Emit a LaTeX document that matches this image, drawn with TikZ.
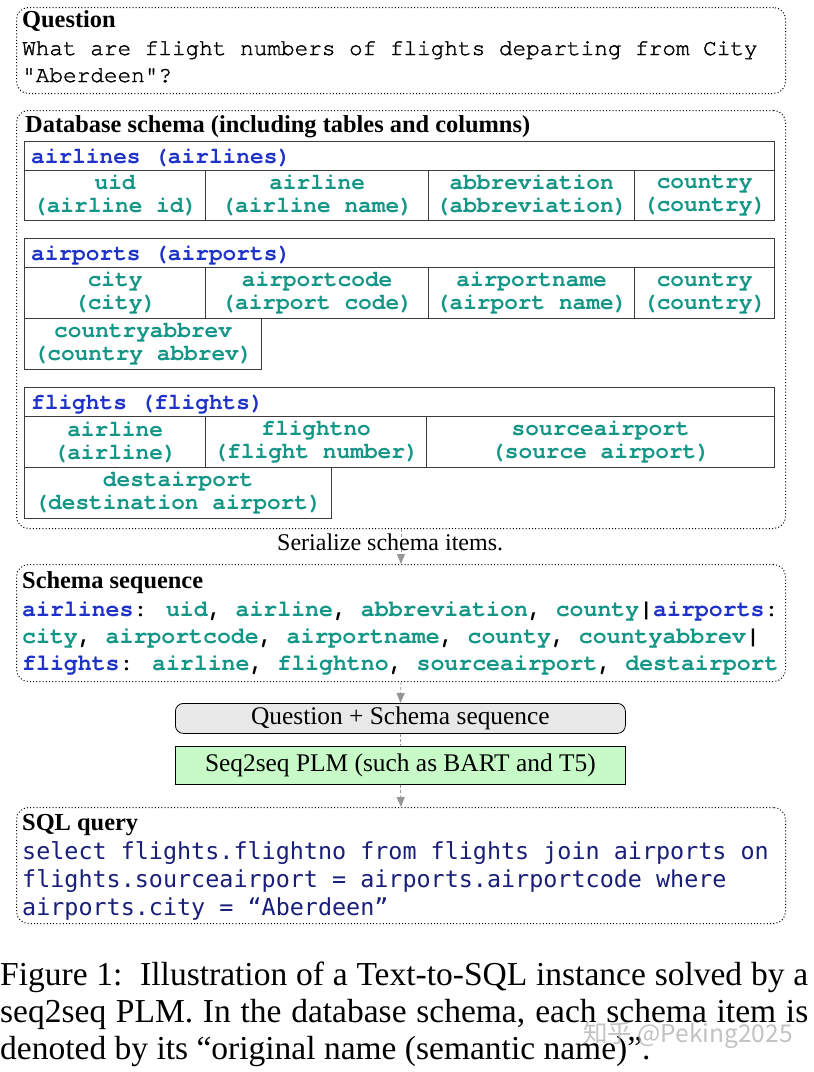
\documentclass[tikz,border=0pt]{standalone}
\usepackage{fontspec}
\setmainfont{Liberation Serif}
\newfontfamily\courq{TeX Gyre Cursor}[Ligatures={NoCommon}, FakeBold=1.6, BoldFont={TeX Gyre Cursor}, BoldFeatures={FakeBold=1.6}]
\newfontfamily\courb{TeX Gyre Cursor}[Ligatures={NoCommon}]
\newfontfamily\sqlfont{DejaVu Sans Mono}
\newfontfamily\cjkfont{Noto Sans CJK SC}
\usetikzlibrary{arrows.meta}
\definecolor{tblue}{RGB}{30,50,200}
\definecolor{tteal}{RGB}{20,150,135}
\definecolor{sqlblue}{RGB}{25,30,120}
\definecolor{boxgrey}{RGB}{232,232,232}
\definecolor{plmgreen}{RGB}{200,250,200}
\definecolor{arrowgrey}{RGB}{150,150,150}
\definecolor{tblborder}{RGB}{60,60,60}
\newcommand{\tabn}[1]{\textcolor{tblue}{#1}}
\newcommand{\coln}[1]{\textcolor{tteal}{#1}}
\begin{document}
\begin{tikzpicture}[x=1pt,y=-1pt,
  dotbox/.style={draw=black, line width=1pt, dash pattern=on 1pt off 2.2pt, rounded corners=12pt, minimum width=769, inner sep=0, anchor=north west},
  titletext/.style={font=\bfseries\fontsize{24.4}{26}\selectfont, anchor=base west, inner sep=0},
  qline/.style={font=\courq\bfseries\fontsize{22.7}{27}\selectfont, anchor=base west, inner sep=0},
  seqline/.style={font=\courb\bfseries\fontsize{23.2}{27}\selectfont, anchor=base west, inner sep=0},
  sqlline/.style={font=\sqlfont\fontsize{23.4}{28}\selectfont, text=sqlblue, anchor=base west, inner sep=0},
  cell/.style={draw=tblborder, line width=1.3pt, inner sep=0, anchor=north west, font=\courb\bfseries\fontsize{22.8}{23}\selectfont, text=tteal, align=center},
  tname/.style={font=\courb\bfseries\fontsize{22.8}{23}\selectfont, text=tblue, anchor=base west, inner sep=0},
  plain/.style={font=\fontsize{24}{26}\selectfont, anchor=base west, inner sep=0},
  stagebox/.style={draw=black, line width=0.8pt, minimum width=450, inner sep=0, anchor=north west, font=\fontsize{25.4}{27}\selectfont},
  conn/.style={draw=arrowgrey, line width=0.8pt, dash pattern=on 3pt off 2pt, -{Triangle[width=8pt,length=10pt]}},
  dconn/.style={draw=arrowgrey, line width=0.8pt, dash pattern=on 3pt off 2pt},
  capline/.style={font=\fontsize{33.5}{37}\selectfont, anchor=base west, inner sep=0},
  wm/.style={font=\cjkfont\fontsize{24.5}{26}\selectfont, text=black!32, opacity=0.75, anchor=west, inner sep=0}
]
\useasboundingbox (0,0) rectangle (814,1072);

% Question box
\node[dotbox, minimum height=86] (qbox) at (16,7) {};
\node[titletext] (qt) at (22,27) {Question};
\node[qline] (q1) at (22,55) {What are flight numbers of flights departing from City};
\node[qline] (q2) at (22,82) {"Aberdeen"?};

% Database schema box
\node[dotbox, minimum height=418] (dbbox) at (16,110) {};
\node[titletext] (dbt) at (25,132) {Database schema (including tables and columns)};

% airlines table
\node[cell, minimum width=750, minimum height=29] (t1h) at (24,141) {};
\node[tname] (t1n) at (31,163) {airlines (airlines)};
\node[cell, minimum width=181, minimum height=50] (t1c1) at (24,170) {uid\\(airline id)};
\node[cell, minimum width=223, minimum height=50] (t1c2) at (205,170) {airline\\(airline name)};
\node[cell, minimum width=206, minimum height=50] (t1c3) at (428,170) {abbreviation\\(abbreviation)};
\node[cell, minimum width=140, minimum height=50] (t1c4) at (634,170) {country\\(country)};

% airports table
\node[cell, minimum width=750, minimum height=29] (t2h) at (24,238) {};
\node[tname] (t2n) at (31,260) {airports (airports)};
\node[cell, minimum width=181, minimum height=51] (t2c1) at (24,267) {city\\(city)};
\node[cell, minimum width=223, minimum height=51] (t2c2) at (205,267) {airportcode\\(airport code)};
\node[cell, minimum width=206, minimum height=51] (t2c3) at (428,267) {airportname\\(airport name)};
\node[cell, minimum width=140, minimum height=51] (t2c4) at (634,267) {country\\(country)};
\node[cell, minimum width=237, minimum height=51] (t2c5) at (24,318) {countryabbrev\\(country abbrev)};

% flights table
\node[cell, minimum width=750, minimum height=29] (t3h) at (24,387) {};
\node[tname] (t3n) at (31,409) {flights (flights)};
\node[cell, minimum width=181, minimum height=51] (t3c1) at (24,416) {airline\\(airline)};
\node[cell, minimum width=221, minimum height=51] (t3c2) at (205,416) {flightno\\(flight number)};
\node[cell, minimum width=348, minimum height=51] (t3c3) at (426,416) {sourceairport\\(source airport)};
\node[cell, minimum width=307, minimum height=51] (t3c4) at (24,467) {destairport\\(destination airport)};

% Schema sequence box
\node[dotbox, minimum height=117] (seqbox) at (16,564) {};
\draw[conn] (dbbox.south) -- (seqbox.north);
\node[plain] (ser) at (277,550) {Serialize schema items.};
\node[titletext] (seqt) at (22,588) {Schema sequence};
\node[seqline] (s1) at (22,616) {\tabn{airlines}: \coln{uid}, \coln{airline}, \coln{abbreviation}, \coln{county}|\tabn{airports}:};
\node[seqline] (s2) at (22,643) {\coln{city}, \coln{airportcode}, \coln{airportname}, \coln{county}, \coln{countyabbrev}|};
\node[seqline] (s3) at (22,670) {\tabn{flights}: \coln{airline}, \coln{flightno}, \coln{sourceairport}, \coln{destairport}};

% Model stages
\node[stagebox, fill=boxgrey, rounded corners=8pt, minimum height=30] (qsbox) at (175,703) {Question + Schema sequence};
\node[stagebox, fill=plmgreen, minimum height=38] (plm) at (175,746) {Seq2seq PLM (such as BART and T5)};
\draw[conn] (seqbox.south) -- (qsbox.north);
\draw[dconn] (qsbox.south) -- (plm.north);

% SQL box
\node[dotbox, minimum height=116] (sqlbox) at (16,807) {};
\draw[conn] (plm.south) -- (sqlbox.north);
\node[titletext] (sqlt) at (22,830) {SQL query};
\node[sqlline] (l1) at (22,859) {select flights.flightno from flights join airports on};
\node[sqlline] (l2) at (22,887) {flights.sourceairport = airports.airportcode where};
\node[sqlline] (l3) at (22,915) {airports.city = “Aberdeen”};

% Caption
\node[capline] (c1) at (0,985) {\makebox[808pt][s]{Figure 1:\ \ Illustration of a Text-to-SQL instance solved by a}};
\node[capline] (c2) at (0,1022) {\makebox[808pt][s]{seq2seq PLM. In the database schema, each schema item is}};
\node[capline] (c3) at (0,1059) {denoted by its “original name (semantic name)”.};

% watermark
\node[wm] (wmk) at (583,1035) {知乎 @Peking2025};
\end{tikzpicture}
\end{document}
